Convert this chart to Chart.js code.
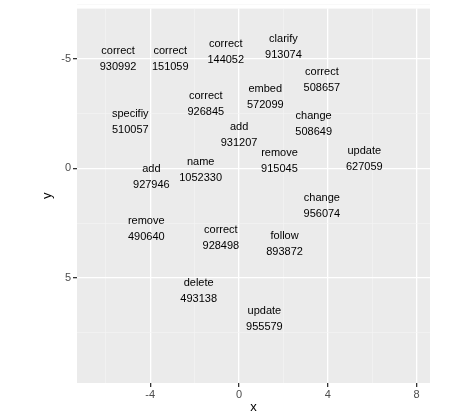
<!DOCTYPE html><html><head><script src="https://cdn.jsdelivr.net/npm/chart.js@4"></script>
<style>body{margin:0;background:#fff}#w{width:474px;height:417px}</style></head><body><div id="w"><canvas id="c"></canvas></div>
<script>
const words=["correct","correct","correct","clarify","correct","specifiy","correct","embed","change","add","update","name","remove","add","change","remove","correct","follow","delete","update"];
const ids=[930992,151059,144052,913074,508657,510057,926845,572099,508649,931207,627059,1052330,915045,927946,956074,490640,928498,893872,493138,955579];
const xs=[-5.45,-3.1,-0.6,2.0,3.73,-4.9,-1.5,1.18,3.36,0,5.64,-1.73,1.82,-3.95,3.73,-4.18,-0.82,2.05,-1.82,1.14];
const ys=[-5.0,-5.0,-5.3,-5.55,-4.05,-2.1,-2.95,-3.27,-2.05,-1.55,-0.45,0.05,-0.32,0.4,1.73,2.77,3.18,3.45,5.6,6.86];
const radii=[1.14,1.14,1.09,0.91,1.18,1.73,1.27,1.36,0.77,0.55,2.09,1.68,1.73,0.55,0.77,1.82,1.23,1.55,1.41,1.82];
const colors=["#F564E3","#FF62BC","#DB72FB","#FF6C91","#00B0F6","#93AA00","#B79F00","#C49A00","#00BCD8","#D89000","#00BFC4","#F8766D","#F8766D","#5EB300","#00BF7D","#00BA38","#00C08B","#00C19A","#619CFF","#B983FF"];
const xTicks=[-6,-4,-2,0,2,4,6,8], xMajor=[-4,0,4,8];
const yTicks=[-7.5,-5,-2.5,0,2.5,5,7.5], yMajor=[-5,0,5];
const bg={id:'bg',beforeDraw(c){const a=c.chartArea,g=c.ctx;g.save();g.fillStyle='#EBEBEB';g.fillRect(a.left,a.top,a.right-a.left,a.bottom-a.top);g.restore();},
afterDatasetsDraw(c){const g=c.ctx,m=c.getDatasetMeta(0);g.save();g.fillStyle='#000';g.font='11px Arial, "Liberation Sans"';g.textAlign='center';g.textBaseline='middle';
m.data.forEach((p,i)=>{g.fillText(words[i],p.x,p.y-8);g.fillText(String(ids[i]),p.x,p.y+8);});g.restore();}};
const gridOpt=(maj)=>({color:ctx=>maj.includes(ctx.tick&&ctx.tick.value)?'#FFFFFF':'#F5F5F5',lineWidth:ctx=>maj.includes(ctx.tick&&ctx.tick.value)?1.3:0.6,
 tickColor:ctx=>maj.includes(ctx.tick&&ctx.tick.value)?'#333':'rgba(0,0,0,0)',tickLength:4,drawOnChartArea:true});
new Chart(document.getElementById('c'),{type:'bubble',
data:{datasets:[{data:xs.map((x,i)=>({x,y:ys[i],s:radii[i]})),backgroundColor:colors,borderColor:'#000',borderWidth:0.7,
radius:ctx=>{const s=ctx.chart.scales.x;const v=ctx.raw;return (s&&v)?Math.abs(s.getPixelForValue(v.s)-s.getPixelForValue(0)):0;},hoverRadius:0}]},
options:{responsive:true,maintainAspectRatio:false,animation:false,layout:{padding:{left:40,right:44,top:7,bottom:0}},
plugins:{legend:{display:false},tooltip:{enabled:false}},
scales:{x:{type:'linear',min:-7.3,max:8.6,border:{display:false},afterBuildTicks:a=>{a.ticks=xTicks.map(v=>({value:v}))},
 afterFit:a=>{a.height=34},grid:gridOpt(xMajor),ticks:{color:'#4D4D4D',font:{size:11},padding:1,callback:v=>xMajor.includes(v)?String(v):''},
 title:{display:true,text:'x',color:'#000',font:{size:13},padding:{top:0,bottom:2}}},
y:{type:'linear',reverse:true,min:-7.3,max:9.8,border:{display:false},afterBuildTicks:a=>{a.ticks=yTicks.map(v=>({value:v}))},
 afterFit:a=>{a.width=37},grid:gridOpt(yMajor),ticks:{color:'#4D4D4D',font:{size:11},padding:2,callback:v=>yMajor.includes(v)?String(v):''},
 title:{display:true,text:'y',color:'#000',font:{size:13},padding:{top:0,bottom:2}}}}},plugins:[bg]});
</script></body></html>
